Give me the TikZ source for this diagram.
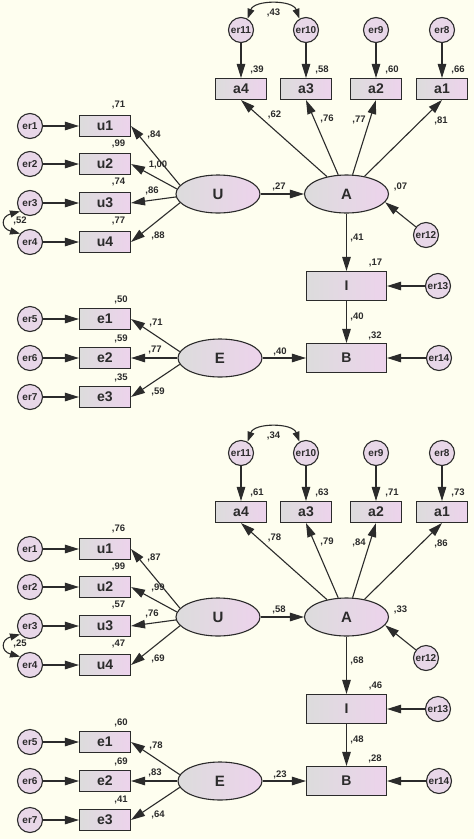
\documentclass[tikz,border=0pt]{standalone}
\usepackage{fontspec}
\setmainfont{Liberation Sans}
\usetikzlibrary{arrows.meta,shapes.geometric}
\definecolor{bgcol}{HTML}{FEFEEF}
\definecolor{boxgray}{HTML}{DCDCDC}
\definecolor{boxpink}{HTML}{EDD3EC}
\definecolor{errpink}{HTML}{E8D7E8}
\definecolor{inkcol}{HTML}{2B2B2B}

% estimate #2 of the list #1, printed as ,84
\newcommand{\est}[2]{\pgfmathsetmacro\estval{{#1}[#2]}%
  \pgfmathprintnumber[fixed,zerofill,precision=2,use comma,skip 0.,assume math mode=true]{\estval}}

% one path model: #1/#2 u loadings/R2, #3/#4 a loadings/R2 (a4..a1),
% #5/#6 e loadings/R2, #7 cov34, cov1011, UA, A, AI, I, IB, EB, B
\newcommand{\semmodel}[7]{%
  % ---- structural part ----
  \node[lat] (U) at (218,-194) {U};
  \node[lat] (A) at (346.5,-194) {A};
  \node[lat] (E) at (220,-358) {E};
  \node[obsbig] (I) at (346.5,-286) {I};
  \node[obsbig] (B) at (346.5,-358) {B};
  \node[errc] (er12) at (426,-235) {er12};
  \node[errc] (er13) at (438,-286) {er13};
  \node[errc] (er14) at (439,-358) {er14};
  \draw[arr] (U) -- (A);
  \draw[arr] (A) -- (I);
  \draw[arr] (I) -- (B);
  \draw[arr] (E) -- (B);
  \draw[arr] (er12) -- (A.-12);
  \draw[arr] (er13) -- (I);
  \draw[arr] (er14) -- (B);
  \node[lbl] (lUA) at (279,-186.5) {\est{#7}{2}};
  \node[lbl] (rA) at (400.5,-187) {\est{#7}{3}};
  \node[lbl] (lAI) at (357,-238) {\est{#7}{4}};
  \node[lbl] (rI) at (375.5,-262.5) {\est{#7}{5}};
  \node[lbl] (lIB) at (357,-317) {\est{#7}{6}};
  \node[lbl] (lEB) at (280,-351.5) {\est{#7}{7}};
  \node[lbl] (rB) at (375,-335.5) {\est{#7}{8}};
  % ---- U indicators ----
  \foreach \ix/\y/\ang/\lx/\ly in {1/126/167/154/134.5, 2/164/173/158/165,
      3/203/184/152/190.5, 4/242/193/158/235.5}{
    \node[obs] (u\ix) at (105,-\y) {u\ix};
    \node[errc] (er\ix) at (30,-\y) {er\ix};
    \draw[arr] (er\ix) -- (u\ix);
    \draw[arr] (U.\ang) -- (u\ix.east);
    \node[lbl] (lu\ix) at (\lx,-\ly) {\est{#1}{\ix-1}};
    \node[lbl, xshift=13.5pt, yshift=9.5pt] (ru\ix) at (u\ix.north) {\est{#2}{\ix-1}};
  }
  \draw[cov] (er3.220) to[out=195, in=165, looseness=2.3] (er4.140);
  \node[lbl] (c34) at (20,-221) {\est{#7}{0}};
  % ---- A indicators ----
  \foreach \ix/\ern/\x/\lx/\ly [count=\i from 0] in {4/11/241/274.5/114.5,
      3/10/306/327/118.5, 2/9/376/359/120, 1/8/442/441/120.5}{
    \node[obs] (a\ix) at (\x,-89) {a\ix};
    \node[errc] (er\ern) at (\x,-30) {er\ern};
    \draw[arr] (er\ern) -- (a\ix);
    \draw[arr] (A) -- (a\ix.south);
    \node[lbl] (la\ix) at (\lx,-\ly) {\est{#3}{\i}};
    \node[lbl, xshift=16pt, yshift=8pt] (ra\ix) at (a\ix.north) {\est{#4}{\i}};
  }
  \draw[cov] (er11.60) to[out=70, in=110] (er10.120);
  \node[lbl] (c1011) at (273.5,-12.5) {\est{#7}{1}};
  % ---- E indicators ----
  \foreach \ix/\ern/\y/\ang/\lx/\ly in {1/5/319/171/156/323, 2/6/358/180/155/350,
      3/7/397/189/158/392}{
    \node[obs] (e\ix) at (105,-\y) {e\ix};
    \node[errc] (er\ern) at (30,-\y) {er\ern};
    \draw[arr] (er\ern) -- (e\ix);
    \draw[arr] (E.\ang) -- (e\ix.east);
    \node[lbl] (le\ix) at (\lx,-\ly) {\est{#5}{\ix-1}};
    \node[lbl, xshift=16pt, yshift=8.5pt] (re\ix) at (e\ix.north) {\est{#6}{\ix-1}};
  }%
}

\begin{document}
\begin{tikzpicture}[
  x=1pt, y=1pt,
  obs/.style={rectangle, draw=inkcol, line width=1.1pt, minimum width=51pt,
              minimum height=21pt, inner sep=0pt, left color=boxgray, right color=boxpink,
              text=inkcol, font=\bfseries\fontsize{14}{14}\selectfont},
  obsbig/.style={obs, minimum width=80pt, minimum height=29pt},
  lat/.style={ellipse, draw=inkcol, line width=1.1pt, minimum width=84pt,
              minimum height=38pt, inner sep=0pt, left color=boxgray, right color=boxpink,
              text=inkcol, font=\bfseries\fontsize{15}{15}\selectfont},
  errc/.style={circle, draw=inkcol, line width=1.1pt, minimum size=25pt, inner sep=0pt,
               fill=errpink, text=inkcol, font=\bfseries\fontsize{10}{10}\selectfont},
  lbl/.style={inner sep=0pt, text=inkcol, font=\bfseries\fontsize{9.5}{9.5}\selectfont},
  arr/.style={draw=inkcol, line width=1.1pt, -{Triangle[length=14pt, width=8.5pt]}},
  cov/.style={draw=inkcol, line width=1.1pt,
              {Triangle[length=10pt, width=7pt]}-{Triangle[length=10pt, width=7pt]}},
]
\fill[bgcol] (0,0) rectangle (474,-839);
\useasboundingbox (0,0) rectangle (474,-839);
% ---- first model ----
\semmodel{0.84,1.00,0.86,0.88}{0.71,0.99,0.74,0.77}{0.62,0.76,0.77,0.81}{0.39,0.58,0.60,0.66}%
  {0.71,0.77,0.59}{0.50,0.59,0.35}{0.52,0.43,0.27,0.07,0.41,0.17,0.40,0.40,0.32}
% ---- second model ----
\begin{scope}[yshift=-423pt]
\semmodel{0.87,0.99,0.76,0.69}{0.76,0.99,0.57,0.47}{0.78,0.79,0.84,0.86}{0.61,0.63,0.71,0.73}%
  {0.78,0.83,0.64}{0.60,0.69,0.41}{0.25,0.34,0.58,0.33,0.68,0.46,0.48,0.23,0.28}
\end{scope}
\end{tikzpicture}
\end{document}
